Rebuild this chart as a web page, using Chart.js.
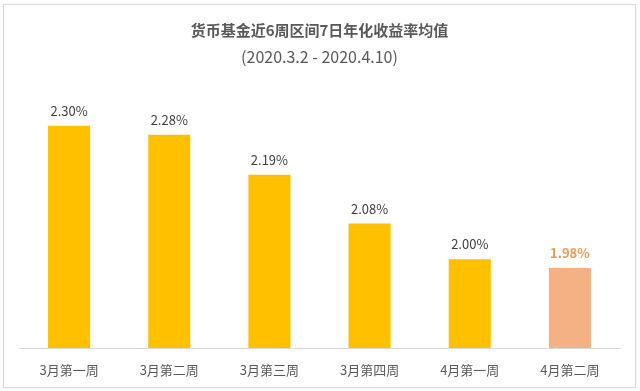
<!DOCTYPE html>
<html>
<head>
<meta charset="utf-8">
<script src="https://cdn.jsdelivr.net/npm/chart.js@4"></script>
<style>
  html, body { margin: 0; padding: 0; background: #ffffff; }
  #frame { position: absolute; left: 3px; top: 4px; width: 631px; height: 382px; border: 1px solid #d9d9d9; box-shadow: 0 0 2px rgba(0,0,0,0.08); }
  #wrap { position: absolute; left: 0; top: 0; width: 640px; height: 391px; }
</style>
</head>
<body>
<div id="frame"></div>
<div id="wrap"><canvas id="c" width="640" height="391"></canvas></div>
<script>
const titleText = '货币基金近6周区间7日年化收益率均值';
const subtitleText = '(2020.3.2 - 2020.4.10)';
const categories = ['3月第一周', '3月第二周', '3月第三周', '3月第四周', '4月第一周', '4月第二周'];
const values = [2.30, 2.28, 2.19, 2.08, 2.00, 1.98];
const valueLabels = ['2.30%', '2.28%', '2.19%', '2.08%', '2.00%', '1.98%'];
const highlightIndex = 5;

const FONT = "'Noto Sans CJK SC', 'Open Sans', sans-serif";
const barColors = values.map((v, i) => i === highlightIndex ? '#F4B183' : '#FFC000');

const valueLabelPlugin = {
  id: 'valueLabels',
  afterDatasetsDraw(chart) {
    const ctx = chart.ctx;
    const meta = chart.getDatasetMeta(0);
    ctx.save();
    ctx.textAlign = 'center';
    ctx.textBaseline = 'middle';
    meta.data.forEach((bar, i) => {
      const hl = i === highlightIndex;
      ctx.font = (hl ? 'bold ' : '') + '13px ' + FONT;
      ctx.fillStyle = hl ? '#E99A55' : '#404040';
      ctx.fillText(valueLabels[i], bar.x, bar.y - 15);
    });
    ctx.restore();
  }
};

new Chart(document.getElementById('c'), {
  type: 'bar',
  data: {
    labels: categories,
    datasets: [{
      data: values,
      backgroundColor: barColors,
      borderWidth: 0,
      barPercentage: 0.42,
      categoryPercentage: 1.0
    }]
  },
  options: {
    responsive: false,
    animation: false,
    devicePixelRatio: 1,
    layout: { padding: { left: 19, right: 20, top: 12, bottom: 0 } },
    plugins: {
      legend: { display: false },
      tooltip: { enabled: false },
      title: {
        display: true,
        text: titleText,
        color: '#595959',
        font: { family: FONT, size: 15, weight: 'bold', lineHeight: 1.2 },
        padding: { top: 9, bottom: 5 }
      },
      subtitle: {
        display: true,
        text: subtitleText,
        color: '#595959',
        font: { family: FONT, size: 16, weight: 'normal', lineHeight: 1.2 },
        padding: { top: 3, bottom: 33 }
      }
    },
    scales: {
      x: {
        grid: { display: false, drawTicks: false },
        border: { display: true, color: '#d9d9d9', width: 1 },
        ticks: { color: '#595959', font: { family: FONT, size: 13 }, padding: 14, maxRotation: 0 },
        afterFit(scale) { scale.height = 43; }
      },
      y: {
        display: false,
        min: 1.8,
        max: 2.36
      }
    }
  },
  plugins: [valueLabelPlugin]
});
</script>
</body>
</html>
